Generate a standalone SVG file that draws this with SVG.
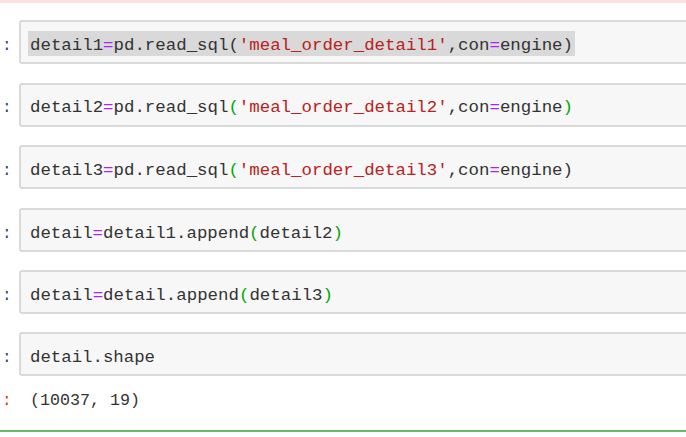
<svg xmlns="http://www.w3.org/2000/svg" width="686" height="437" viewBox="0 0 686 437">
<style>
.cell{fill:#f7f7f7;stroke:#cfcfcf;stroke-width:1.5}
.c{font-family:"Liberation Mono",monospace;font-size:16px;fill:#333}
.p{font-family:"Liberation Mono",monospace;font-size:16px;fill:#303f9f}
.o{fill:#aa22ff}.s{fill:#ba2121}.g{fill:#00aa00}
</style>
<rect width="686" height="437" fill="#fff"/>
<rect x="0" y="0" width="686" height="3" fill="#fbe3e3"/>
<g id="cell1"><rect class="cell" x="20" y="21" width="680" height="42" rx="2"/>
<rect x="28" y="31" width="547" height="25" fill="#d9d9d9"/>
<text class="p" x="2" y="50">:</text>
<text class="c" x="30" y="50" textLength="543" lengthAdjust="spacingAndGlyphs">detail1<tspan class="o">=</tspan>pd.read_sql(<tspan class="s">'meal_order_detail1'</tspan>,con<tspan class="o">=</tspan>engine)</text></g>
<g id="cell2"><rect class="cell" x="20" y="84" width="680" height="42" rx="2"/>
<text class="p" x="2" y="112">:</text>
<text class="c" x="30" y="112" textLength="543" lengthAdjust="spacingAndGlyphs">detail2<tspan class="o">=</tspan>pd.read_sql<tspan class="g">(</tspan><tspan class="s">'meal_order_detail2'</tspan>,con<tspan class="o">=</tspan>engine<tspan class="g">)</tspan></text></g>
<g id="cell3"><rect class="cell" x="20" y="146" width="680" height="42" rx="2"/>
<text class="p" x="2" y="175">:</text>
<text class="c" x="30" y="175" textLength="543" lengthAdjust="spacingAndGlyphs">detail3<tspan class="o">=</tspan>pd.read_sql<tspan class="g">(</tspan><tspan class="s">'meal_order_detail3'</tspan>,con<tspan class="o">=</tspan>engine)</text></g>
<g id="cell4"><rect class="cell" x="20" y="209" width="680" height="42" rx="2"/>
<text class="p" x="2" y="238">:</text>
<text class="c" x="30" y="238" textLength="313" lengthAdjust="spacingAndGlyphs">detail<tspan class="o">=</tspan>detail1.append<tspan class="g">(</tspan>detail2<tspan class="g">)</tspan></text></g>
<g id="cell5"><rect class="cell" x="20" y="271" width="680" height="42" rx="2"/>
<text class="p" x="2" y="300">:</text>
<text class="c" x="30" y="300" textLength="303" lengthAdjust="spacingAndGlyphs">detail<tspan class="o">=</tspan>detail.append<tspan class="g">(</tspan>detail3<tspan class="g">)</tspan></text></g>
<g id="cell6"><rect class="cell" x="20" y="333" width="680" height="42" rx="2"/>
<text class="p" x="2" y="362">:</text>
<text class="c" x="30" y="362" textLength="125" lengthAdjust="spacingAndGlyphs">detail.shape</text></g>
<g id="output"><text class="p" x="2" y="405" style="fill:#d84315">:</text>
<text class="c" x="30" y="405" textLength="110" lengthAdjust="spacingAndGlyphs">(10037, 19)</text></g>
<rect x="0" y="430" width="686" height="2" fill="#66bb6a"/>
</svg>
